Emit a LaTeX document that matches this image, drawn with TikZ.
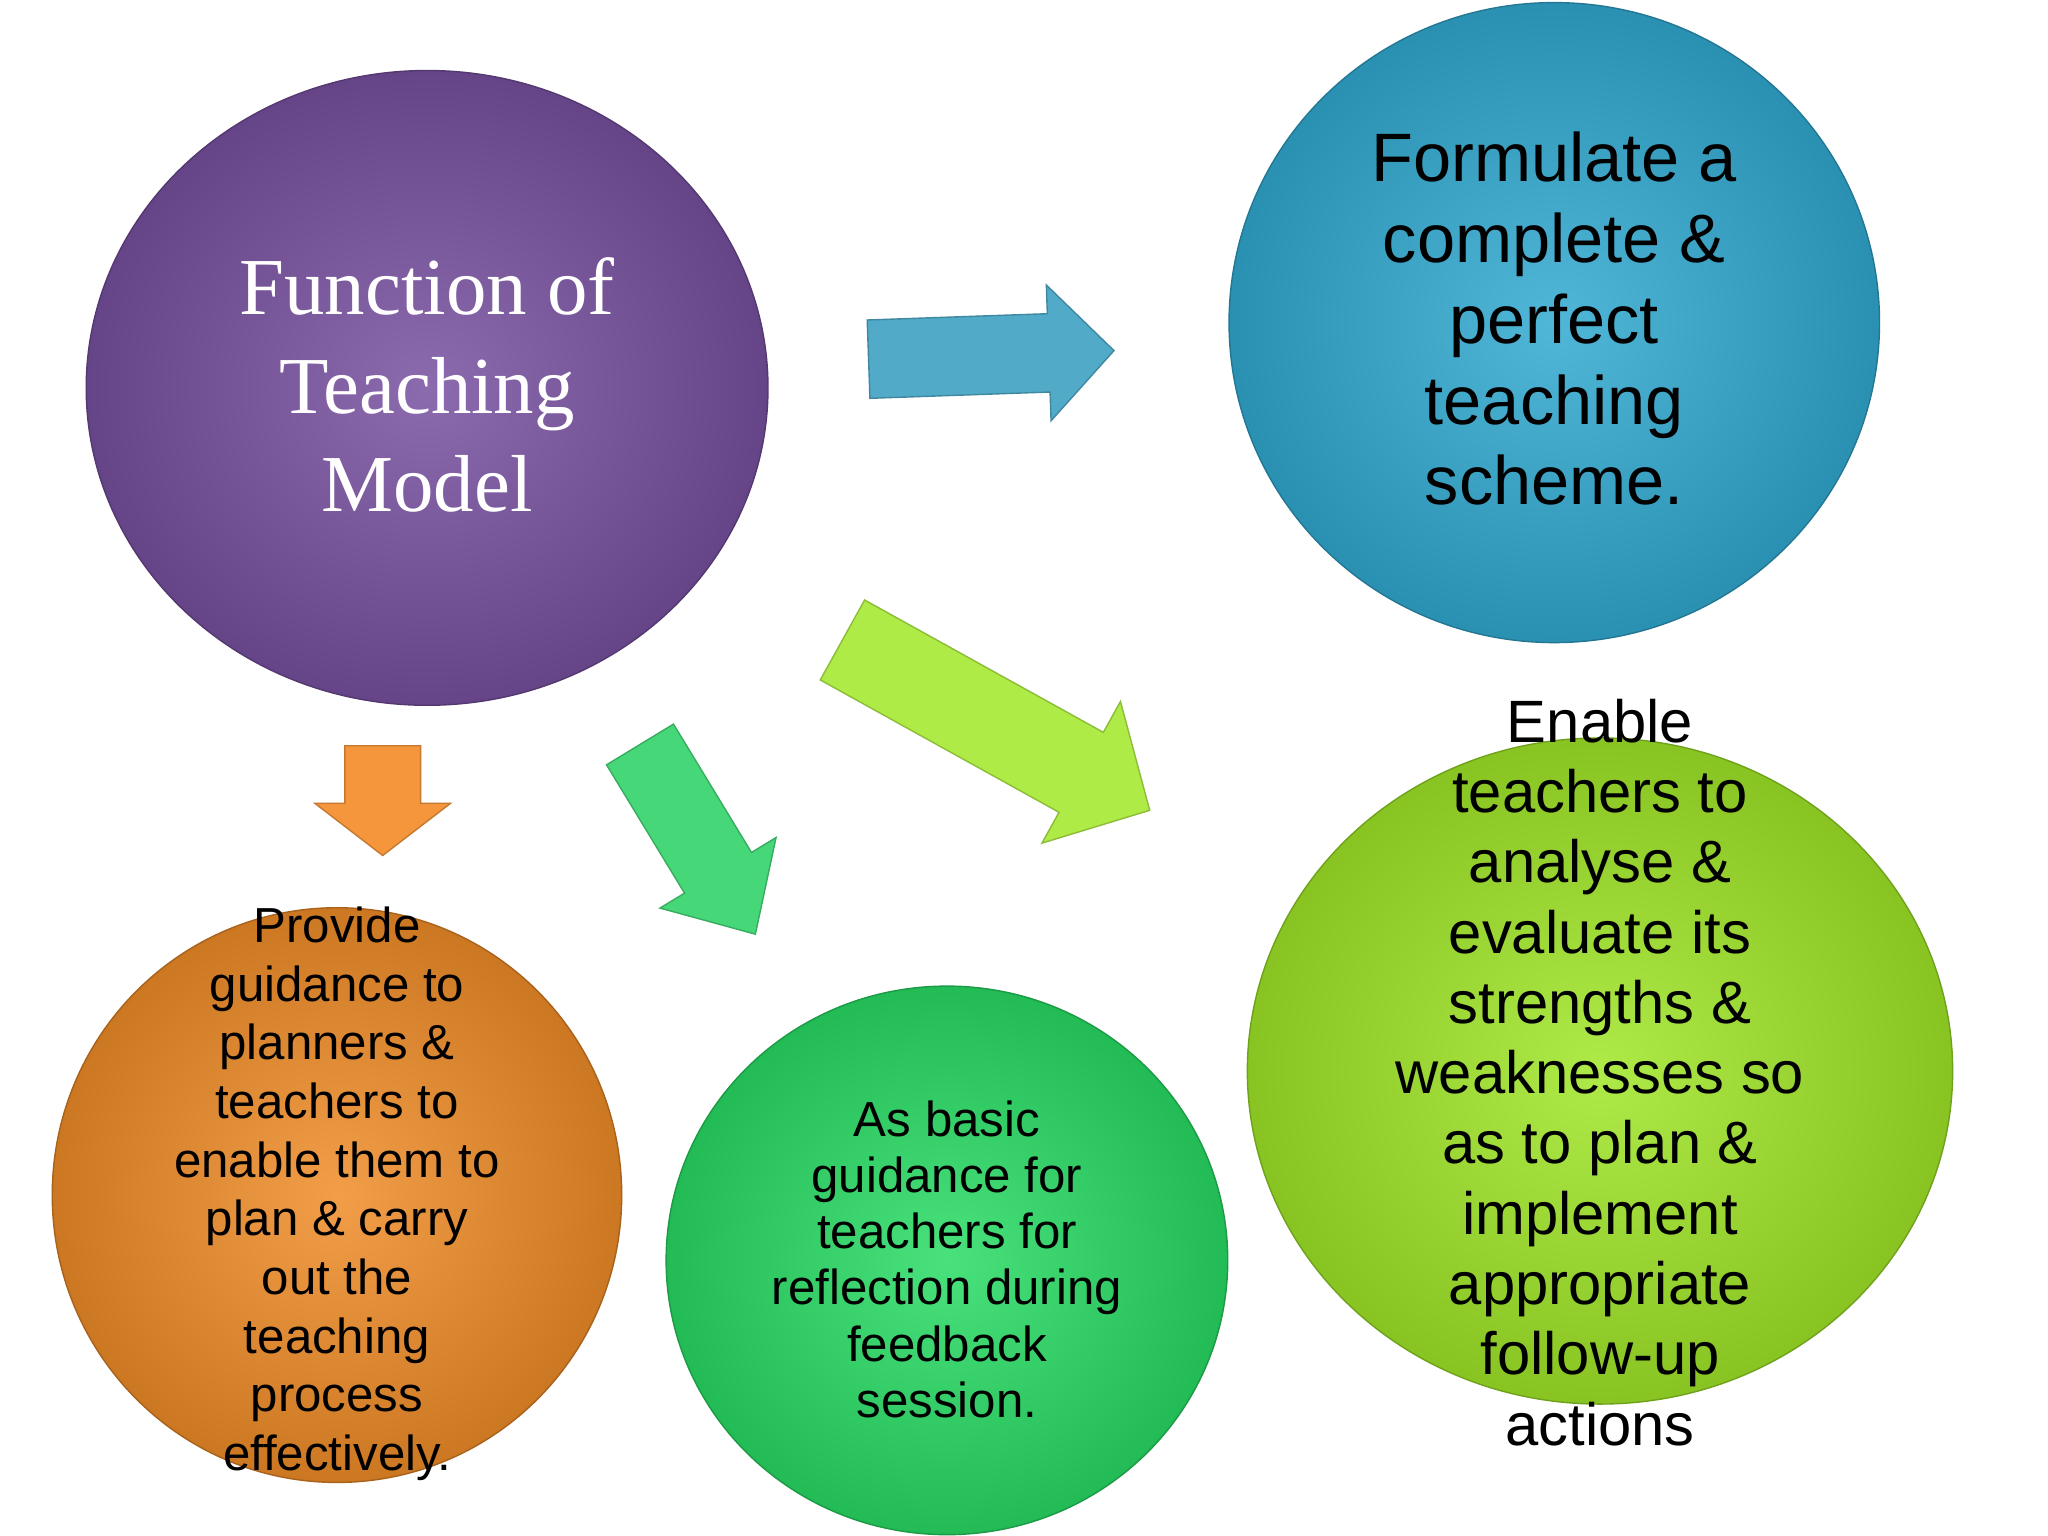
\documentclass[tikz,border=0pt]{standalone}
\usepackage{fontspec}
\setmainfont{Liberation Sans}
\newfontfamily\serifface{Liberation Serif}
\begin{document}
\begin{tikzpicture}[x=0.01306cm,y=0.01306cm,
  ball/.style={ellipse-less},
  txt/.style={align=center,text=black},
  bigarrow/.style={draw=#1!80!black,line width=0.4pt,fill=#1}]
\useasboundingbox (0,0) rectangle (1568,1176);
\definecolor{cpurple}{RGB}{120,80,160}
\definecolor{cblue}{RGB}{50,170,210}
\definecolor{corange}{RGB}{240,140,40}
\definecolor{cgreen}{RGB}{40,220,100}
\definecolor{clime}{RGB}{160,230,40}
\definecolor{cbluearrow}{RGB}{80,170,200}
\definecolor{climearrow}{RGB}{175,235,70}
\definecolor{cgreenarrow}{RGB}{70,215,120}
\definecolor{corangearrow}{RGB}{245,150,60}
% circles
\shade[inner color=cpurple!85!white,outer color=cpurple!85!black,draw=cpurple!70!black] (327,879) ellipse [x radius=261,y radius=243];
\shade[inner color=cblue!85!white,outer color=cblue!85!black,draw=cblue!70!black] (1190,929) ellipse [x radius=249,y radius=245];
\shade[inner color=corange!85!white,outer color=corange!85!black,draw=corange!70!black] (258,261) ellipse [x radius=218,y radius=220];
\shade[inner color=cgreen!85!white,outer color=cgreen!85!black,draw=cgreen!70!black] (725,211) ellipse [x radius=215,y radius=210];
\shade[inner color=clime!85!white,outer color=clime!85!black,draw=clime!70!black] (1225,356) ellipse [x radius=270,y radius=255];
% arrows: (start) rotate, length L
\begin{scope}[shift={(665,901)},rotate=2]
  \draw[bigarrow=cbluearrow] (0,-30) -- (138,-30) -- (138,-52) -- (188,0) -- (138,52) -- (138,30) -- (0,30) -- cycle;
\end{scope}
\begin{scope}[shift={(645,686)},rotate=-29]
  \draw[bigarrow=climearrow] (0,-35) -- (209,-35) -- (209,-62) -- (269,0) -- (209,62) -- (209,35) -- (0,35) -- cycle;
\end{scope}
\begin{scope}[shift={(490,606)},rotate=-58.7]
  \draw[bigarrow=cgreenarrow] (0,-30) -- (115,-30) -- (115,-52) -- (170,0) -- (115,52) -- (115,30) -- (0,30) -- cycle;
\end{scope}
\begin{scope}[shift={(293,605)},rotate=-90]
  \draw[bigarrow=corangearrow] (0,-29) -- (44,-29) -- (44,-52) -- (84,0) -- (44,52) -- (44,29) -- (0,29) -- cycle;
\end{scope}
% texts
\node[align=center,text=white,font=\serifface\fontsize{23}{28}\selectfont] (fn) at (327,881) {Function of\\Teaching\\Model};
\node[txt,font=\fontsize{19.5}{23}\selectfont] (fo) at (1190,932) {Formulate a\\complete \&\\perfect\\teaching\\scheme.};
\node[txt,font=\fontsize{14}{16.7}\selectfont] (pr) at (258,262) {Provide\\guidance to\\planners \&\\teachers to\\enable them to\\plan \& carry\\out the\\teaching\\process\\effectively.};
\node[txt,font=\fontsize{14}{16}\selectfont] (ba) at (725,212) {As basic\\guidance for\\teachers for\\reflection during\\feedback\\session.};
\node[txt,font=\fontsize{17}{20}\selectfont] (en) at (1225,355) {Enable\\teachers to\\analyse \&\\evaluate its\\strengths \&\\weaknesses so\\as to plan \&\\implement\\appropriate\\follow-up\\actions};
\end{tikzpicture}
\end{document}
